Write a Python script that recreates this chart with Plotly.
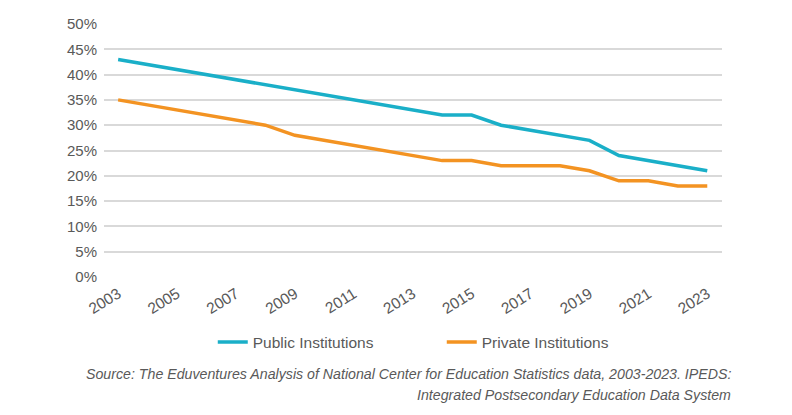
import plotly.graph_objects as go

years = list(range(2003, 2024))
public = [43, 42, 41, 40, 39, 38, 37, 36, 35, 34, 33, 32, 32, 30, 29, 28, 27, 24, 23, 22, 21]
private = [35, 34, 33, 32, 31, 30, 28, 27, 26, 25, 24, 23, 23, 22, 22, 22, 21, 19, 19, 18, 18]
tick_years = list(range(2003, 2024, 2))
y_ticks = list(range(0, 51, 5))

TEXT = "#595959"
fig = go.Figure()
fig.add_trace(go.Scatter(x=years, y=public, mode="lines", name="Public Institutions",
                         line=dict(color="#1AAFC8", width=3.5)))
fig.add_trace(go.Scatter(x=years, y=private, mode="lines", name="Private Institutions",
                         line=dict(color="#F39322", width=3.5)))

fig.update_layout(
    width=792, height=415,
    margin=dict(l=104, r=70, t=24, b=138),
    paper_bgcolor="white", plot_bgcolor="white",
    font=dict(family="Liberation Sans, Arial", size=15, color=TEXT),
    showlegend=True,
    legend=dict(orientation="h", x=0.176, xanchor="left", y=-0.259, yanchor="middle",
                entrywidth=184, entrywidthmode="pixels",
                font=dict(size=15.5, color=TEXT)),
    xaxis=dict(range=[2002.52, 2023.5], tickmode="array", tickvals=tick_years,
               ticktext=[str(t) for t in tick_years], tickangle=-32,
               tickfont=dict(size=15.5),
               showgrid=False, zeroline=False, showline=False, ticks="", ticklabelstandoff=4),
    yaxis=dict(range=[0, 50], tickmode="array", tickvals=y_ticks,
               ticktext=[f"{v}%" for v in y_ticks], showgrid=True, gridcolor="#D9D9D9",
               gridwidth=1.5, zeroline=False, showline=False, ticks="", ticklabelstandoff=6),
    annotations=[
        dict(text="<i>Source: The Eduventures Analysis of National Center for Education Statistics data, 2003-2023. IPEDS:</i>",
             xref="paper", yref="paper", x=(733 - 104) / 618, y=(277 - 374) / 253,
             xanchor="right", yanchor="middle", showarrow=False, font=dict(size=14.2, color=TEXT)),
        dict(text="<i>Integrated Postsecondary Education Data System</i>",
             xref="paper", yref="paper", x=(733 - 104) / 618, y=(277 - 395) / 253,
             xanchor="right", yanchor="middle", showarrow=False, font=dict(size=14.2, color=TEXT)),
    ],
)
fig.write_html("out.html")
